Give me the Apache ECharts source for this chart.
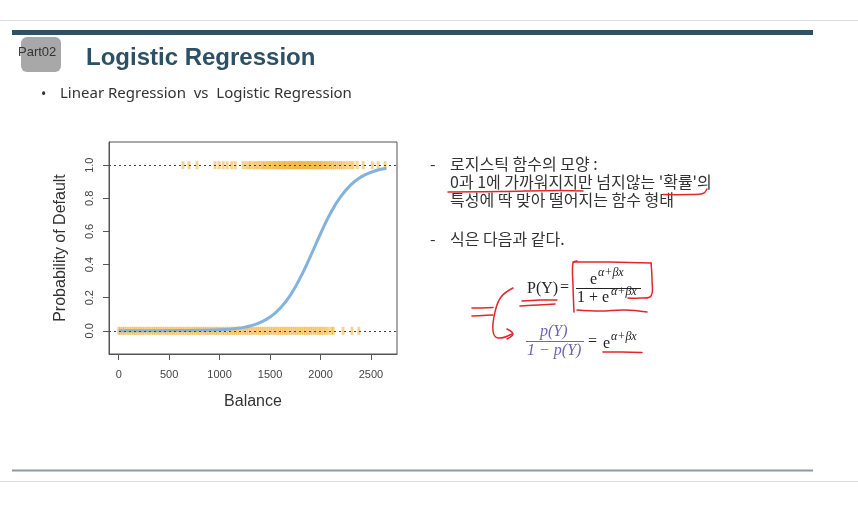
<!DOCTYPE html>
<html><head><meta charset="utf-8">
<script src="https://cdn.jsdelivr.net/npm/echarts@6/dist/echarts.min.js"></script>
<style>html,body{margin:0;padding:0;background:#fff}#c{width:858px;height:507px}</style>
</head><body><div id="c"></div>
<script>
// ---- data ----
var xTicks = [0, 500, 1000, 1500, 2000, 2500];
var yTicks = [0, 0.2, 0.4, 0.6, 0.8, 1.0];
var curveBalance = [0, 200, 400, 600, 800, 1000, 1100, 1200, 1300, 1400, 1500, 1600, 1700, 1800, 1900, 2000, 2100, 2200, 2300, 2400, 2500, 2600, 2654];
var curveProb = [0.000, 0.000, 0.001, 0.002, 0.003, 0.006, 0.010, 0.017, 0.029, 0.050, 0.083, 0.136, 0.214, 0.321, 0.450, 0.586, 0.711, 0.810, 0.881, 0.928, 0.957, 0.975, 0.981];
var yesBalance = [637, 697, 776, 955, 994, 1035, 1075, 1120, 1155, 1233, 1262, 1290, 1310, 1338, 1360, 1381, 1402, 1425, 1441, 1460, 1478, 1495, 1512, 1530, 1546, 1560, 1577, 1590, 1604, 1620, 1633, 1648, 1661, 1675, 1690, 1702, 1716, 1730, 1743, 1755, 1768, 1780, 1793, 1805, 1818, 1830, 1842, 1856, 1868, 1880, 1893, 1906, 1920, 1934, 1948, 1961, 1975, 1990, 2004, 2018, 2033, 2050, 2066, 2082, 2100, 2118, 2137, 2156, 2177, 2198, 2220, 2245, 2272, 2300, 2323, 2363, 2423, 2513, 2572, 2640];
var noBalance = [0, 18, 40, 57, 81, 102, 125, 148, 166, 190, 212, 233, 255, 279, 300, 322, 345, 366, 388, 410, 431, 455, 476, 498, 520, 541, 563, 587, 608, 630, 652, 675, 696, 718, 740, 763, 785, 806, 828, 851, 872, 894, 916, 938, 960, 981, 1003, 1026, 1047, 1069, 1090, 1113, 1135, 1156, 1178, 1200, 1222, 1243, 1265, 1287, 1309, 1330, 1352, 1374, 1396, 1418, 1439, 1461, 1483, 1505, 1527, 1548, 1570, 1592, 1614, 1636, 1657, 1679, 1701, 1723, 1745, 1766, 1788, 1810, 1832, 1854, 1876, 1897, 1919, 1941, 1963, 1985, 2005, 2028, 2052, 2078, 2110, 2127, 2223, 2312, 2380];
var yesValue = 1, noValue = 0;

var chart = echarts.init(document.getElementById('c'));
var RED = '#E2262C';
var serif = 'Liberation Serif';
function txt(x, y, s, font, fill, align) {
  return {type: 'text', x: x, y: y, style: {text: s, font: font, fill: fill || '#333', align: align || 'left', verticalAlign: 'middle'}};
}
function pl(points, w) {
  return {type: 'polyline', shape: {points: points, smooth: 0.4}, style: {stroke: RED, lineWidth: w || 1.5, fill: null, lineCap: 'round', lineJoin: 'round'}};
}
function ln(x1, y1, x2, y2, color, w) {
  return {type: 'line', shape: {x1: x1, y1: y1, x2: x2, y2: y2}, style: {stroke: color, lineWidth: w}};
}
var kr = '16px "Noto Sans CJK KR"';
var graphics = [
  ln(0, 20.5, 858, 20.5, '#dddddd', 1),
  {type: 'rect', shape: {x: 12, y: 30, width: 801, height: 5}, style: {fill: '#2D5165'}},
  {type: 'rect', shape: {x: 21, y: 37, width: 40, height: 35, r: 6}, style: {fill: '#A8A8A8'}},
  txt(18, 52, 'Part02', '13px "Liberation Sans"', '#333'),
  txt(86, 58, 'Logistic Regression', 'bold 24px "Liberation Sans"', '#2C5064'),
  txt(41, 95, '•', '14px "Noto Sans"', '#333'),
  txt(60, 94, 'Linear Regression  vs  Logistic Regression', '15px "Noto Sans"', '#333'),
  txt(430, 164, '-', kr, '#333'),
  txt(450, 164, '로지스틱 함수의 모양 :', kr, '#333'),
  txt(450, 182, "0과 1에 가까워지지만 넘지않는 '확률'의", kr, '#333'),
  txt(450, 200, '특성에 딱 맞아 떨어지는 함수 형태', kr, '#333'),
  txt(430, 239, '-', kr, '#333'),
  txt(450, 239, '식은 다음과 같다.', kr, '#333'),
  // formula 1
  txt(527, 289, 'P(Y)', '16px ' + serif, '#222'),
  txt(560, 288, '=', '16px ' + serif, '#222'),
  txt(590, 280, 'e', '16px ' + serif, '#222'),
  txt(598, 273, 'α+βx', 'italic 12px ' + serif, '#222'),
  ln(576, 288.5, 641, 288.5, '#222', 1),
  txt(577, 298, '1 + e', '16px ' + serif, '#222'),
  txt(611, 292, 'α+βx', 'italic 12px ' + serif, '#222'),
  // formula 2
  txt(540, 332, 'p(Y)', 'italic 16px ' + serif, '#6E64B0'),
  ln(526, 341.5, 584, 341.5, '#6E64B0', 1),
  txt(527, 351, '1 − p(Y)', 'italic 16px ' + serif, '#6E64B0'),
  txt(588, 342, '=', '16px ' + serif, '#222'),
  txt(603, 344, 'e', '16px ' + serif, '#222'),
  txt(611, 337, 'α+βx', 'italic 12px ' + serif, '#222'),
  // red handwriting
  pl([[448, 192], [500, 191.5], [560, 190.5], [583, 191]]),
  pl([[663, 194.5], [690, 194.5], [703, 193.5], [707, 189]]),
  pl([[574, 312], [573, 285], [573, 263], [577, 261]]),
  pl([[573, 262], [610, 262], [651, 263]]),
  pl([[651, 263], [652, 280], [651, 296], [640, 298], [628, 298]]),
  pl([[577, 310], [600, 311], [625, 310], [647, 312]]),
  pl([[522, 301], [540, 300], [557, 300]]),
  pl([[520, 306], [538, 305], [555, 304]]),
  pl([[472, 308], [482, 308], [493, 307.5]]),
  pl([[472, 316], [483, 315.5], [493, 315]]),
  pl([[513, 288], [501, 297], [495, 312], [493, 331], [498, 338], [512, 334]]),
  pl([[507, 329], [513, 334], [507, 339]]),
  pl([[603, 352], [622, 352], [642, 352.5]]),
  // bottom lines
  ln(12, 470.5, 813, 470.5, '#8E9AA6', 2),
  ln(0, 481.5, 858, 481.5, '#dddddd', 1)
];

var option = {
  backgroundColor: '#fff',
  animation: false,
  grid: {left: 109, top: 142, width: 288, height: 212, show: true, borderColor: '#555', borderWidth: 1, backgroundColor: 'transparent'},
  xAxis: {
    type: 'value', min: -96, max: 2758,
    name: 'Balance', nameLocation: 'middle', nameGap: 40,
    nameTextStyle: {fontFamily: 'Liberation Sans', fontSize: 16, color: '#333'},
    axisLine: {show: true, onZero: false, lineStyle: {color: '#555', width: 1}}, splitLine: {show: false},
    axisTick: {show: true, length: 6, lineStyle: {color: '#555'}, customValues: xTicks},
    axisLabel: {fontFamily: 'Liberation Sans', fontSize: 11, color: '#444', margin: 15, customValues: xTicks,
      formatter: function (v) { return String(v); }}
  },
  yAxis: {
    type: 'value', min: -0.14, max: 1.14,
    name: 'Probability of Default', nameLocation: 'middle', nameGap: 40, nameRotate: 90,
    nameTextStyle: {fontFamily: 'Liberation Sans', fontSize: 16, color: '#333'},
    axisLine: {show: true, onZero: false, lineStyle: {color: '#555', width: 1}}, splitLine: {show: false},
    axisTick: {show: true, length: 6, lineStyle: {color: '#555'}, customValues: yTicks},
    axisLabel: {fontFamily: 'Liberation Sans', fontSize: 11, color: '#444', margin: 14, rotate: 90, align: 'center', verticalAlign: 'bottom', customValues: yTicks,
      formatter: function (v) { return v.toFixed(1); }}
  },
  series: [
    {type: 'scatter', z: 1, symbol: 'rect', symbolSize: [3, 8], silent: true,
     itemStyle: {color: 'rgba(240,163,20,0.6)'},
     data: noBalance.map(function (b) { return [b, noValue]; })},
    {type: 'scatter', z: 1, symbol: 'rect', symbolSize: [3, 8], silent: true,
     itemStyle: {color: 'rgba(240,163,20,0.6)'},
     data: yesBalance.map(function (b) { return [b, yesValue]; })},
    {type: 'line', z: 2, data: [], silent: true,
     markLine: {silent: true, symbol: ['none', 'none'], label: {show: false},
       lineStyle: {color: '#444', type: [2, 3], width: 1.2},
       data: [{yAxis: noValue}, {yAxis: yesValue}]}},
    {type: 'line', z: 3, smooth: true, showSymbol: false, silent: true,
     lineStyle: {color: '#82B3DC', width: 3},
     data: curveBalance.map(function (b, i) { return [b, curveProb[i]]; })}
  ],
  graphic: graphics
};
chart.setOption(option);
</script></body></html>
